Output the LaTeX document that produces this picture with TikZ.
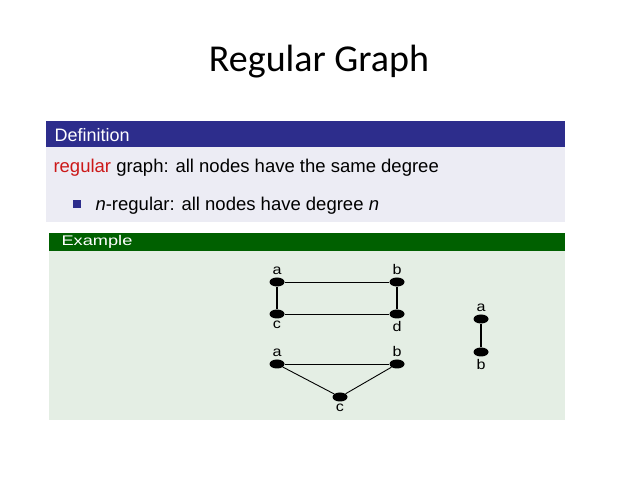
\documentclass[tikz,border=0pt]{standalone}
\usepackage{fontspec}
\setmainfont{Carlito}
\setsansfont{Liberation Sans}
\usetikzlibrary{shapes.geometric}
\definecolor{defblue}{RGB}{45,45,140}
\definecolor{defbody}{RGB}{236,236,244}
\definecolor{exgreen}{RGB}{0,96,0}
\definecolor{exbody}{RGB}{228,238,228}
\definecolor{regred}{RGB}{204,24,24}
\tikzset{
  vtx/.style={ellipse,fill=black,minimum width=15pt,minimum height=9pt,inner sep=0pt},
  lbl/.style={font=\sffamily\fontsize{14}{14}\selectfont,inner sep=0pt,xscale=1.15},
  edg/.style={line width=0.9pt},
  vedg/.style={line width=2.2pt}
}
\begin{document}
\begin{tikzpicture}[x=1pt,y=-1pt]
\useasboundingbox (0,0) rectangle (638,478);
\fill[white] (0,0) rectangle (638,478);
\node (title) at (319,62) {\fontsize{38}{38}\selectfont Regular Graph};
\fill[defblue] (46,121) rectangle (565,147);
\fill[defbody] (46,147) rectangle (565,222);
\node[anchor=west,text=white,font=\sffamily\fontsize{18}{18}\selectfont] (defh) at (51,135) {Definition};
\node[anchor=west,font=\sffamily\fontsize{18.5}{18}\selectfont] (deft) at (50,168) {\textcolor{regred}{regular} graph: all nodes have the same degree};
\fill[defblue] (73,200) rectangle (81,208);
\node[anchor=west,font=\sffamily\fontsize{18.5}{18}\selectfont] (bul) at (92,206) {\textit{n}-regular: all nodes have degree \textit{n}};
\fill[exgreen] (49,233) rectangle (565,251);
\fill[exbody] (49,251) rectangle (565,420);
\node[anchor=west,text=white,font=\sffamily\fontsize{14}{14}\selectfont,xscale=1.3] (exh) at (57,242) {Example};
% square
\node[vtx] (a1) at (277,282) {};
\node[vtx] (b1) at (397,282) {};
\node[vtx] (c1) at (277,314) {};
\node[vtx] (d1) at (397,314) {};
\node[lbl,above=2pt] at (a1.north) {a};
\node[lbl,above=2pt] at (b1.north) {b};
\node[lbl,below=2pt] at (c1.south) {c};
\node[lbl,below=2pt] at (d1.south) {d};
\draw[edg] (a1) -- (b1);
\draw[edg] (c1) -- (d1);
\draw[vedg] (a1) -- (c1);
\draw[vedg] (b1) -- (d1);
% triangle
\node[vtx] (a2) at (277,364) {};
\node[vtx] (b2) at (397,364) {};
\node[vtx] (c2) at (340,397) {};
\node[lbl,above=2pt] at (a2.north) {a};
\node[lbl,above=2pt] at (b2.north) {b};
\node[lbl,below=2pt] at (c2.south) {c};
\draw[edg] (a2) -- (b2);
\draw[edg] (a2) -- (c2);
\draw[edg] (b2) -- (c2);
% edge
\node[vtx] (a3) at (481,319) {};
\node[vtx] (b3) at (481,352) {};
\node[lbl,above=2pt] at (a3.north) {a};
\node[lbl,below=2pt] at (b3.south) {b};
\draw[vedg] (a3) -- (b3);
\end{tikzpicture}
\end{document}
